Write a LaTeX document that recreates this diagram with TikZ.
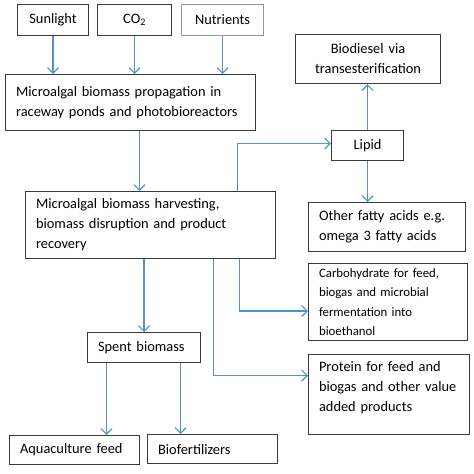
\documentclass[tikz,border=0pt]{standalone}
\usepackage{fontspec}
\setmainfont{Carlito}
\usepackage{tikz}
\usetikzlibrary{calc, positioning, arrows.meta}
\usepackage{xcolor}
\definecolor{flowblue}{HTML}{5492CF}
\definecolor{boxline}{HTML}{3A3A3A}

\begin{document}
\begin{tikzpicture}[x=1pt, y=-1pt, >={Straight Barb[length=5.5pt, width=11pt]}]
        \tikzstyle{stepbox} = [draw=boxline, fill=white, rectangle, line width=1.1pt, inner xsep=10.5pt, inner ysep=0pt, anchor=north west, align=left, font=\fontsize{14.4}{20}\selectfont]
        \tikzstyle{flow} = [->, draw=flowblue, line width=1.2pt]
        \useasboundingbox (0,0) rectangle (474,474);

        % inputs
        \node[stepbox, align=center, text width=50pt, minimum height=31pt] (sun) at (17,4) {Sunlight};
        \node[stepbox, align=center, text width=53pt, minimum height=31pt] (co2) at (97,4) {CO\textsubscript{2}};
        \node[stepbox, draw=gray!80, align=center, text width=61pt, minimum height=31pt] (nutr) at (181,4) {Nutrients};

        % main chain
        \node[stepbox, text width=229pt, minimum height=56pt] (prop) at (5,74) {Microalgal biomass propagation in\\raceway ponds and photobioreactors};
        \node[stepbox, text width=229pt, minimum height=67pt] (harv) at (25,191) {Microalgal biomass harvesting,\\biomass disruption and product\\recovery};

        % products
        \node[stepbox, align=center, text width=124pt, minimum height=49pt] (bio) at (295,34) {Biodiesel via\\transesterification};
        \node[stepbox, align=center, text width=51pt, minimum height=30pt] (lipid) at (331,130) {Lipid};
        \node[stepbox, text width=136pt, minimum height=49pt] (fatty) at (308,202) {Other fatty acids e.g.\\omega 3 fatty acids};
        \node[stepbox, text width=138pt, minimum height=77pt, font=\fontsize{12.8}{19.5}\selectfont] (carb) at (308,263) {Carbohydrate for feed,\\biogas and microbial\\fermentation into\\bioethanol};
        \node[stepbox, text width=140pt, minimum height=80pt] (prot) at (308,354) {Protein for feed and\\biogas and other value\\added products\\[-4pt]\mbox{}};

        % spent biomass
        \node[stepbox, text width=92pt, minimum height=30pt] (spent) at (87,332) {Spent biomass};
        \node[stepbox, text width=109pt, minimum height=29pt] (aqua) at (9,435) {Aquaculture feed};
        \node[stepbox, text width=109pt, minimum height=29pt] (biof) at (147,434) {Biofertilizers};

        \coordinate (p1) at ([xshift=9pt]prop.south);
        \coordinate (h1) at ([xshift=87pt]harv.north);
        \coordinate (h2) at ([xshift=89pt]harv.south);
        \coordinate (h3) at ([xshift=63pt]harv.south);
        \coordinate (s1) at ([xshift=-37.5pt]spent.south);
        \coordinate (s2) at ([xshift=36.5pt]spent.south);

        \draw[flow] (sun.south) -- (sun.south |- prop.north);
        \draw[flow] (co2.south) -- (co2.south |- prop.north);
        \draw[flow] (nutr.south) -- (nutr.south |- prop.north);
        \draw[flow] (p1) -- (p1 |- harv.north);
        \draw[flow] (h1) |- ([yshift=2pt]lipid.west);
        \draw[flow] (lipid.north) -- (lipid.north |- bio.south);
        \draw[flow] (lipid.south) -- (lipid.south |- fatty.north);
        \draw[flow] (h2) |- ([yshift=-9pt]carb.west);
        \draw[flow] (h3) |- ([yshift=19pt]prot.west);
        \draw[flow] (spent.north |- harv.south) -- (spent.north);
        \draw[flow] (s1) -- (s1 |- aqua.north);
        \draw[flow] (s2) -- (s2 |- biof.north);
    \end{tikzpicture}
\end{document}
